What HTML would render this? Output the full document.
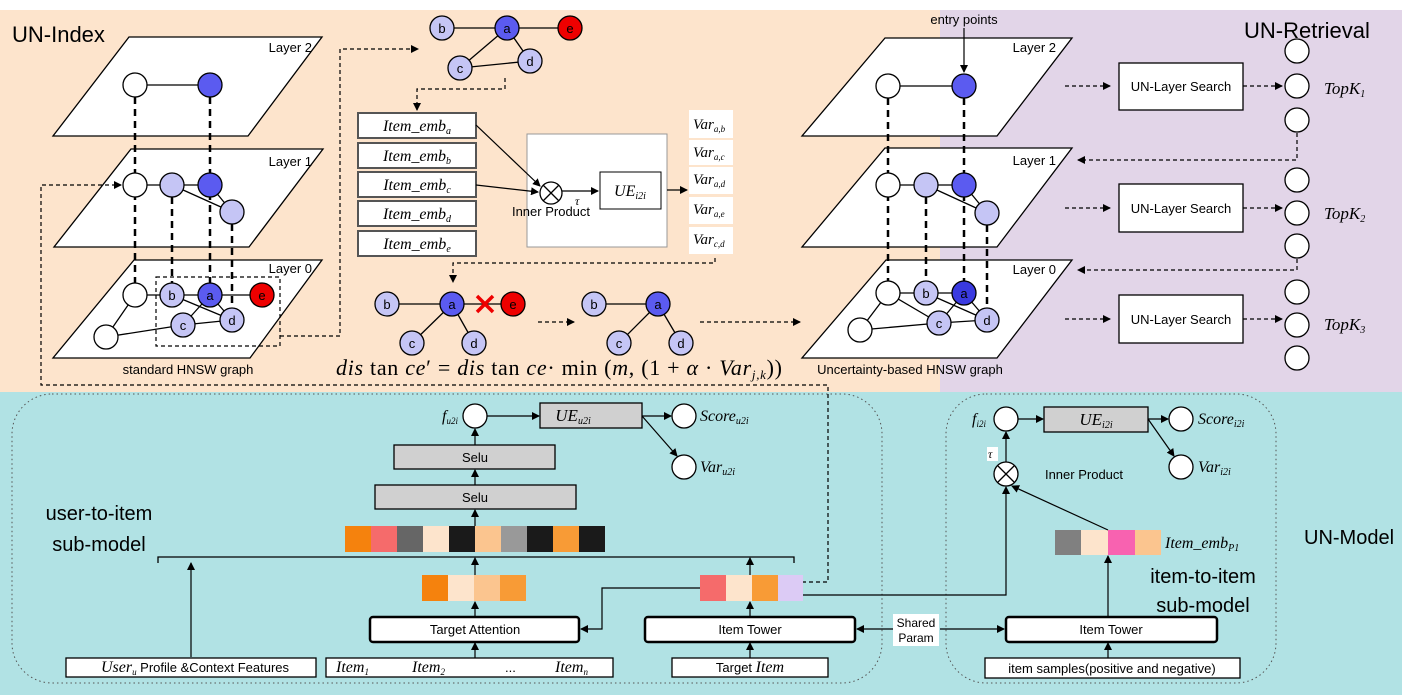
<!DOCTYPE html>
<html><head><meta charset="utf-8"><style>
body{margin:0;background:#fff}
svg{display:block}
text{font-family:"Liberation Sans",sans-serif}
.s,.s text,.s tspan,text.s{font-family:"Liberation Serif",serif;font-style:italic}
.n{font-family:"Liberation Sans",sans-serif !important;font-style:normal !important}
</style></head><body>
<svg width="1404" height="700" viewBox="0 0 1404 700" xmlns="http://www.w3.org/2000/svg">
<defs>
<marker id="a" markerWidth="8" markerHeight="8" refX="7" refY="4" orient="auto" markerUnits="userSpaceOnUse"><path d="M0,0 L8,4 L0,8 Z" fill="#000"/></marker>
</defs>
<rect x="0" y="10" width="940" height="382" fill="#fde4cc"/>
<rect x="940" y="10" width="462" height="382" fill="#e2d5e8"/>
<rect x="0" y="392" width="1402" height="303" fill="#b1e2e4"/>
<text x="12" y="42" font-size="22">UN-Index</text>
<text x="1244" y="38" font-size="22">UN-Retrieval</text>

<g stroke="#000" stroke-width="1.3" fill="#fff">
<polygon points="129,37 322,37 248,136 53,136"/>
<polygon points="131,149 323,149 249,247 54,247"/>
<polygon points="134,260 322,260 250,358 53,358"/>
<polygon points="885,38 1072,38 997,136 802,136"/>
<polygon points="885,148 1072,148 997,247 802,247"/>
<polygon points="886,260 1072,260 997,358 802,358"/>
</g>
<g font-size="13" text-anchor="end">
<text x="312" y="52">Layer 2</text><text x="312" y="166">Layer 1</text><text x="312" y="273">Layer 0</text>
<text x="1056" y="52">Layer 2</text><text x="1056" y="165">Layer 1</text><text x="1056" y="274">Layer 0</text>
</g>
<g stroke="#000" stroke-width="2.5" stroke-dasharray="7,5">
<line x1="135" y1="85" x2="135" y2="295"/><line x1="210" y1="85" x2="210" y2="295"/>
<line x1="172" y1="185" x2="172" y2="295"/><line x1="232" y1="212" x2="232" y2="320"/>
<line x1="888" y1="86" x2="888" y2="293"/><line x1="964" y1="86" x2="964" y2="293"/>
<line x1="926" y1="185" x2="926" y2="293"/><line x1="987" y1="213" x2="987" y2="320"/>
</g>
<g stroke="#000" stroke-width="1.3">
<line x1="135" y1="85" x2="210" y2="85"/>
<line x1="135" y1="185" x2="210" y2="185"/><line x1="172" y1="185" x2="232" y2="212"/><line x1="210" y1="185" x2="232" y2="212"/>
<line x1="135" y1="295" x2="262" y2="295"/><line x1="135" y1="295" x2="106" y2="337"/><line x1="106" y1="337" x2="183" y2="325"/>
<line x1="172" y1="295" x2="232" y2="320"/><line x1="210" y1="295" x2="183" y2="325"/><line x1="210" y1="295" x2="232" y2="320"/><line x1="183" y1="325" x2="232" y2="320"/>
<line x1="888" y1="86" x2="964" y2="86"/>
<line x1="888" y1="185" x2="964" y2="185"/><line x1="926" y1="185" x2="987" y2="213"/><line x1="964" y1="185" x2="987" y2="213"/>
<line x1="888" y1="293" x2="964" y2="293"/><line x1="888" y1="293" x2="860" y2="330"/><line x1="860" y1="330" x2="939" y2="323"/><line x1="888" y1="293" x2="939" y2="323"/>
<line x1="926" y1="293" x2="987" y2="320"/><line x1="964" y1="293" x2="939" y2="323"/><line x1="964" y1="293" x2="987" y2="320"/><line x1="939" y1="323" x2="987" y2="320"/>
<line x1="442" y1="28" x2="570" y2="28"/><line x1="507" y1="28" x2="460" y2="68"/><line x1="507" y1="28" x2="530" y2="61"/><line x1="460" y1="68" x2="530" y2="61"/>
<line x1="387" y1="304" x2="513" y2="304"/><line x1="452" y1="304" x2="412" y2="343"/><line x1="452" y1="304" x2="474" y2="343"/>
<line x1="594" y1="304" x2="658" y2="304"/><line x1="658" y1="304" x2="619" y2="343"/><line x1="658" y1="304" x2="681" y2="343"/>
</g>
<g stroke="#000" stroke-width="1.3">
<circle cx="135" cy="85" r="12" fill="#fff"/><circle cx="210" cy="85" r="12" fill="#5b5bf0"/>
<circle cx="135" cy="185" r="12" fill="#fff"/><circle cx="172" cy="185" r="12" fill="#c5c5f5"/><circle cx="210" cy="185" r="12" fill="#5b5bf0"/><circle cx="232" cy="212" r="12" fill="#c5c5f5"/>
<circle cx="135" cy="295" r="12" fill="#fff"/><circle cx="106" cy="337" r="12" fill="#fff"/>
<circle cx="172" cy="295" r="12" fill="#c5c5f5"/><circle cx="210" cy="295" r="12" fill="#5b5bf0"/><circle cx="262" cy="295" r="12" fill="#ee0000"/><circle cx="183" cy="325" r="12" fill="#c5c5f5"/><circle cx="232" cy="320" r="12" fill="#c5c5f5"/>
<circle cx="888" cy="86" r="12" fill="#fff"/><circle cx="964" cy="86" r="12" fill="#5b5bf0"/>
<circle cx="888" cy="185" r="12" fill="#fff"/><circle cx="926" cy="185" r="12" fill="#c5c5f5"/><circle cx="964" cy="185" r="12" fill="#5b5bf0"/><circle cx="987" cy="213" r="12" fill="#c5c5f5"/>
<circle cx="888" cy="293" r="12" fill="#fff"/><circle cx="860" cy="330" r="12" fill="#fff"/>
<circle cx="926" cy="293" r="12" fill="#c5c5f5"/><circle cx="964" cy="293" r="12" fill="#3a3ae0"/><circle cx="939" cy="323" r="12" fill="#c5c5f5"/><circle cx="987" cy="320" r="12" fill="#c5c5f5"/>
<circle cx="442" cy="28" r="12" fill="#c5c5f5"/><circle cx="507" cy="28" r="12" fill="#5b5bf0"/><circle cx="570" cy="28" r="12" fill="#ee0000"/><circle cx="460" cy="68" r="12" fill="#c5c5f5"/><circle cx="530" cy="61" r="12" fill="#c5c5f5"/>
<circle cx="387" cy="304" r="12" fill="#c5c5f5"/><circle cx="452" cy="304" r="12" fill="#5b5bf0"/><circle cx="513" cy="304" r="12" fill="#ee0000"/><circle cx="412" cy="343" r="12" fill="#c5c5f5"/><circle cx="474" cy="343" r="12" fill="#c5c5f5"/>
<circle cx="594" cy="304" r="12" fill="#c5c5f5"/><circle cx="658" cy="304" r="12" fill="#5b5bf0"/><circle cx="619" cy="343" r="12" fill="#c5c5f5"/><circle cx="681" cy="343" r="12" fill="#c5c5f5"/>
</g>
<g font-size="13" text-anchor="middle" fill="#000">
<text x="172" y="300">b</text><text x="210" y="300">a</text><text x="262" y="300">e</text><text x="183" y="330">c</text><text x="232" y="325">d</text>
<text x="926" y="298">b</text><text x="964" y="298">a</text><text x="939" y="328">c</text><text x="987" y="325">d</text>
<text x="442" y="33">b</text><text x="507" y="33">a</text><text x="570" y="33">e</text><text x="460" y="73">c</text><text x="530" y="66">d</text>
<text x="387" y="309">b</text><text x="452" y="309">a</text><text x="513" y="309">e</text><text x="412" y="348">c</text><text x="474" y="348">d</text>
<text x="594" y="309">b</text><text x="658" y="309">a</text><text x="619" y="348">c</text><text x="681" y="348">d</text>
</g>
<path d="M477,296 L493,312 M493,296 L477,312" stroke="#e00" stroke-width="3.5"/>
<g fill="none" stroke="#000" stroke-width="1.2" stroke-dasharray="4,3">
<rect x="156" y="277" width="124" height="69"/>
<path d="M280,336 H340 V49 H418" marker-end="url(#a)"/>
<path d="M505,78 V89 H417 V110" marker-end="url(#a)"/>
<path d="M715,258 V263 H453 V282" marker-end="url(#a)"/>
<path d="M538,322 H574" marker-end="url(#a)"/>
<path d="M700,322 H800" marker-end="url(#a)"/>
<path d="M802,582 H828 V385 H41 V185 H121" marker-end="url(#a)"/>
<path d="M1065,86 H1110" marker-end="url(#a)"/><path d="M1065,208 H1110" marker-end="url(#a)"/><path d="M1065,319 H1110" marker-end="url(#a)"/>
<path d="M1243,86 H1282" marker-end="url(#a)"/><path d="M1243,208 H1282" marker-end="url(#a)"/><path d="M1243,319 H1282" marker-end="url(#a)"/>
<path d="M1297,133 V160 H1078" marker-end="url(#a)"/><path d="M1297,259 V270 H1078" marker-end="url(#a)"/>
</g>
<text x="188" y="374" font-size="13" text-anchor="middle">standard HNSW graph</text>
<text x="910" y="374" font-size="13" text-anchor="middle">Uncertainty-based HNSW graph</text>
<text x="964" y="24" font-size="13" text-anchor="middle">entry points</text>
<line x1="964" y1="28" x2="964" y2="72" stroke="#000" stroke-width="1.2" marker-end="url(#a)"/>
<text x="336" y="375" font-size="22" textLength="446" lengthAdjust="spacing" style="font-family:'Liberation Serif',serif"><tspan style="font-style:italic">dis</tspan> tan <tspan style="font-style:italic">ce</tspan>′ = <tspan style="font-style:italic">dis</tspan> tan <tspan style="font-style:italic">ce</tspan>· min (<tspan style="font-style:italic">m</tspan>, (1 + <tspan style="font-style:italic">α</tspan> · <tspan style="font-style:italic">Var</tspan><tspan font-size="13" dy="4" style="font-style:italic">j,k</tspan><tspan dy="-4">))</tspan></text>

<g stroke="#555" stroke-width="2" fill="#fff">
<rect x="358" y="113" width="118" height="25"/><rect x="358" y="143" width="118" height="25"/><rect x="358" y="172" width="118" height="25"/><rect x="358" y="201" width="118" height="25"/><rect x="358" y="231" width="118" height="25"/>
</g>
<g class="s" font-size="16" text-anchor="middle">
<text x="417" y="131">Item_emb<tspan font-size="10" dy="3">a</tspan></text>
<text x="417" y="161">Item_emb<tspan font-size="10" dy="3">b</tspan></text>
<text x="417" y="190">Item_emb<tspan font-size="10" dy="3">c</tspan></text>
<text x="417" y="219">Item_emb<tspan font-size="10" dy="3">d</tspan></text>
<text x="417" y="249">Item_emb<tspan font-size="10" dy="3">e</tspan></text>
</g>
<rect x="527" y="134" width="140" height="113" fill="#fff" stroke="#999"/>
<line x1="476" y1="125" x2="540" y2="186" stroke="#000" stroke-width="1.2" marker-end="url(#a)"/>
<line x1="476" y1="185" x2="538" y2="192" stroke="#000" stroke-width="1.2" marker-end="url(#a)"/>
<circle cx="551" cy="193" r="11" fill="#fff" stroke="#000" stroke-width="1.3"/>
<path d="M543,185 L559,201 M559,185 L543,201" stroke="#000" stroke-width="1.3"/>
<line x1="562" y1="191" x2="598" y2="191" stroke="#000" stroke-width="1.2" marker-end="url(#a)"/>
<text x="575" y="205" class="s" font-size="12">τ</text>
<text x="551" y="216" font-size="13" text-anchor="middle">Inner Product</text>
<rect x="600" y="172" width="61" height="37" fill="#fff" stroke="#000"/>
<text x="630" y="196" class="s" font-size="16" text-anchor="middle">UE<tspan font-size="10" dy="3">i2i</tspan></text>
<line x1="667" y1="190" x2="687" y2="190" stroke="#000" stroke-width="1.2" marker-end="url(#a)"/>
<g fill="#fff"><rect x="689" y="110" width="44" height="28"/><rect x="689" y="140" width="44" height="25"/><rect x="689" y="167" width="44" height="27"/><rect x="689" y="197" width="44" height="27"/><rect x="689" y="227" width="44" height="27"/></g>
<g class="s" font-size="15">
<text x="693" y="129">Var<tspan font-size="9" dy="3">a,b</tspan></text>
<text x="693" y="157">Var<tspan font-size="9" dy="3">a,c</tspan></text>
<text x="693" y="184">Var<tspan font-size="9" dy="3">a,d</tspan></text>
<text x="693" y="214">Var<tspan font-size="9" dy="3">a,e</tspan></text>
<text x="693" y="244">Var<tspan font-size="9" dy="3">c,d</tspan></text>
</g>

<g fill="#fff" stroke="#000" stroke-width="1.3">
<rect x="1119" y="63" width="124" height="47"/><rect x="1119" y="184" width="124" height="48"/><rect x="1119" y="295" width="124" height="48"/>
<circle cx="1297" cy="51" r="12"/><circle cx="1297" cy="86" r="12"/><circle cx="1297" cy="120" r="12"/>
<circle cx="1297" cy="180" r="12"/><circle cx="1297" cy="213" r="12"/><circle cx="1297" cy="246" r="12"/>
<circle cx="1297" cy="292" r="12"/><circle cx="1297" cy="325" r="12"/><circle cx="1297" cy="358" r="12"/>
</g>
<g font-size="13" text-anchor="middle"><text x="1181" y="91">UN-Layer Search</text><text x="1181" y="213">UN-Layer Search</text><text x="1181" y="324">UN-Layer Search</text></g>
<g class="s" font-size="17"><text x="1324" y="94">TopK<tspan font-size="10" dy="3">1</tspan></text><text x="1324" y="219">TopK<tspan font-size="10" dy="3">2</tspan></text><text x="1324" y="330">TopK<tspan font-size="10" dy="3">3</tspan></text></g>

<rect x="12" y="394" width="870" height="289" rx="40" fill="none" stroke="#555" stroke-dasharray="1.5,3"/>
<rect x="946" y="394" width="330" height="289" rx="40" fill="none" stroke="#555" stroke-dasharray="1.5,3"/>
<text x="1304" y="544" font-size="20">UN-Model</text>
<g font-size="20" text-anchor="middle"><text x="99" y="520">user-to-item</text><text x="99" y="551">sub-model</text><text x="1203" y="583">item-to-item</text><text x="1203" y="612">sub-model</text></g>
<g stroke="#000" stroke-width="1.3">
<rect x="540" y="403" width="102" height="25" fill="#d0d0d0"/>
<rect x="394" y="445" width="161" height="24" fill="#d0d0d0"/>
<rect x="375" y="485" width="201" height="24" fill="#d0d0d0"/>
<rect x="1044" y="407" width="104" height="25" fill="#d0d0d0"/>
<circle cx="475" cy="416" r="12" fill="#fff"/><circle cx="684" cy="416" r="12" fill="#fff"/><circle cx="684" cy="467" r="12" fill="#fff"/>
<circle cx="1006" cy="419" r="12" fill="#fff"/><circle cx="1181" cy="419" r="12" fill="#fff"/><circle cx="1181" cy="467" r="12" fill="#fff"/>
<circle cx="1006" cy="474" r="12" fill="#fff"/><path d="M998,466 L1014,482 M1014,466 L998,482"/>
<path d="M158,563 V557 H794 V563" fill="none"/>
</g>
<g font-size="13" text-anchor="middle"><text x="475" y="462">Selu</text><text x="475" y="502">Selu</text></g>
<g stroke="#000" stroke-width="2.5" fill="#fff">
<rect x="370" y="617" width="209" height="25" rx="3"/><rect x="645" y="617" width="210" height="25" rx="3"/><rect x="1006" y="617" width="211" height="25" rx="3"/>
</g>
<g stroke="#fff" stroke-width="1" fill="none">
<rect x="372" y="619" width="205" height="21"/><rect x="647" y="619" width="206" height="21"/><rect x="1008" y="619" width="207" height="21"/>
</g>
<g fill="#fff" stroke="#000" stroke-width="1.3">
<rect x="66" y="658" width="250" height="19"/><rect x="326" y="658" width="287" height="19"/><rect x="672" y="658" width="156" height="19"/><rect x="985" y="658" width="255" height="20"/>
</g>
<g>
<rect x="345" y="526" width="26" height="26" fill="#f5820d"/><rect x="371" y="526" width="26" height="26" fill="#f56b6b"/><rect x="397" y="526" width="26" height="26" fill="#666"/><rect x="423" y="526" width="26" height="26" fill="#fde4cc"/><rect x="449" y="526" width="26" height="26" fill="#1a1a1a"/><rect x="475" y="526" width="26" height="26" fill="#fbc58f"/><rect x="501" y="526" width="26" height="26" fill="#999"/><rect x="527" y="526" width="26" height="26" fill="#1a1a1a"/><rect x="553" y="526" width="26" height="26" fill="#f89b36"/><rect x="579" y="526" width="26" height="26" fill="#1a1a1a"/>
<rect x="422" y="575" width="26" height="26" fill="#f5820d"/><rect x="448" y="575" width="26" height="26" fill="#fde4cc"/><rect x="474" y="575" width="26" height="26" fill="#fbc58f"/><rect x="500" y="575" width="26" height="26" fill="#f89b36"/>
<rect x="700" y="575" width="26" height="26" fill="#f56b6b"/><rect x="726" y="575" width="26" height="26" fill="#fde4cc"/><rect x="752" y="575" width="26" height="26" fill="#f89b36"/><rect x="778" y="575" width="25" height="26" fill="#dccbf5"/>
<rect x="1055" y="530" width="26" height="25" fill="#808080"/><rect x="1081" y="530" width="27" height="25" fill="#fde4cc"/><rect x="1108" y="530" width="27" height="25" fill="#f862b0"/><rect x="1135" y="530" width="26" height="25" fill="#fbc58f"/>
</g>
<g stroke="#000" stroke-width="1.2" fill="none" marker-end="url(#a)">
<line x1="475" y1="445" x2="475" y2="429"/><line x1="475" y1="485" x2="475" y2="470"/><line x1="475" y1="526" x2="475" y2="510"/>
<line x1="475" y1="575" x2="475" y2="558"/><line x1="475" y1="617" x2="475" y2="602"/><line x1="475" y1="658" x2="475" y2="643"/>
<line x1="750" y1="575" x2="750" y2="558"/><line x1="750" y1="617" x2="750" y2="602"/><line x1="750" y1="658" x2="750" y2="643"/>
<line x1="191" y1="657" x2="191" y2="563"/>
<line x1="487" y1="416" x2="539" y2="416"/><line x1="642" y1="416" x2="671" y2="416"/><line x1="642" y1="416" x2="677" y2="456"/>
<line x1="1018" y1="419" x2="1043" y2="419"/><line x1="1148" y1="419" x2="1168" y2="419"/><line x1="1148" y1="419" x2="1174" y2="456"/>
<line x1="1006" y1="462" x2="1006" y2="432"/>
<line x1="1108" y1="530" x2="1012" y2="486"/>
<line x1="1108" y1="617" x2="1108" y2="556"/><line x1="1108" y1="658" x2="1108" y2="643"/>
<path d="M700,588 H602 V629 H581"/>
<path d="M803,595 H1006 V487"/>
<line x1="900" y1="629" x2="857" y2="629"/><line x1="940" y1="629" x2="1004" y2="629"/>
</g>
<rect x="893" y="614" width="46" height="32" fill="#fff"/>
<text x="916" y="627" font-size="12" text-anchor="middle">Shared</text><text x="916" y="642" font-size="12" text-anchor="middle">Param</text>
<rect x="987" y="447" width="11" height="14" fill="#fff"/><text x="988" y="458" class="s" font-size="12">τ</text>
<text x="1084" y="479" font-size="13" text-anchor="middle">Inner Product</text>
<g class="s" font-size="16">
<text x="442" y="421">f<tspan font-size="9" dy="3">u2i</tspan></text>
<text x="573" y="421" text-anchor="middle" font-size="17">UE<tspan font-size="10" dy="3">u2i</tspan></text>
<text x="700" y="421">Score<tspan font-size="10" dy="3">u2i</tspan></text>
<text x="700" y="472">Var<tspan font-size="10" dy="3">u2i</tspan></text>
<text x="972" y="424">f<tspan font-size="9" dy="3">i2i</tspan></text>
<text x="1096" y="425" text-anchor="middle" font-size="17">UE<tspan font-size="10" dy="3">i2i</tspan></text>
<text x="1198" y="424">Score<tspan font-size="10" dy="3">i2i</tspan></text>
<text x="1198" y="472">Var<tspan font-size="10" dy="3">i2i</tspan></text>
<text x="1165" y="548">Item_emb<tspan font-size="10" dy="3">P1</tspan></text>
</g>
<g font-size="13" text-anchor="middle">
<text x="475" y="634">Target Attention</text><text x="750" y="634">Item Tower</text><text x="1111" y="634">Item Tower</text>
<text x="1112" y="673">item samples(positive and negative)</text>
<text x="195" y="672"><tspan class="s" font-size="16">User</tspan><tspan class="s" font-size="9" dy="3">u</tspan><tspan dy="-3"> Profile &amp;Context Features</tspan></text>
<text x="750" y="672">Target <tspan class="s" font-size="16">Item</tspan></text>
</g>
<g class="s" font-size="16">
<text x="336" y="672">Item<tspan font-size="9" dy="3">1</tspan></text>
<text x="412" y="672">Item<tspan font-size="9" dy="3">2</tspan></text>
<text x="505" y="672" class="n" font-size="13">...</text>
<text x="555" y="672">Item<tspan font-size="9" dy="3">n</tspan></text>
</g>
</svg>
</body></html>
